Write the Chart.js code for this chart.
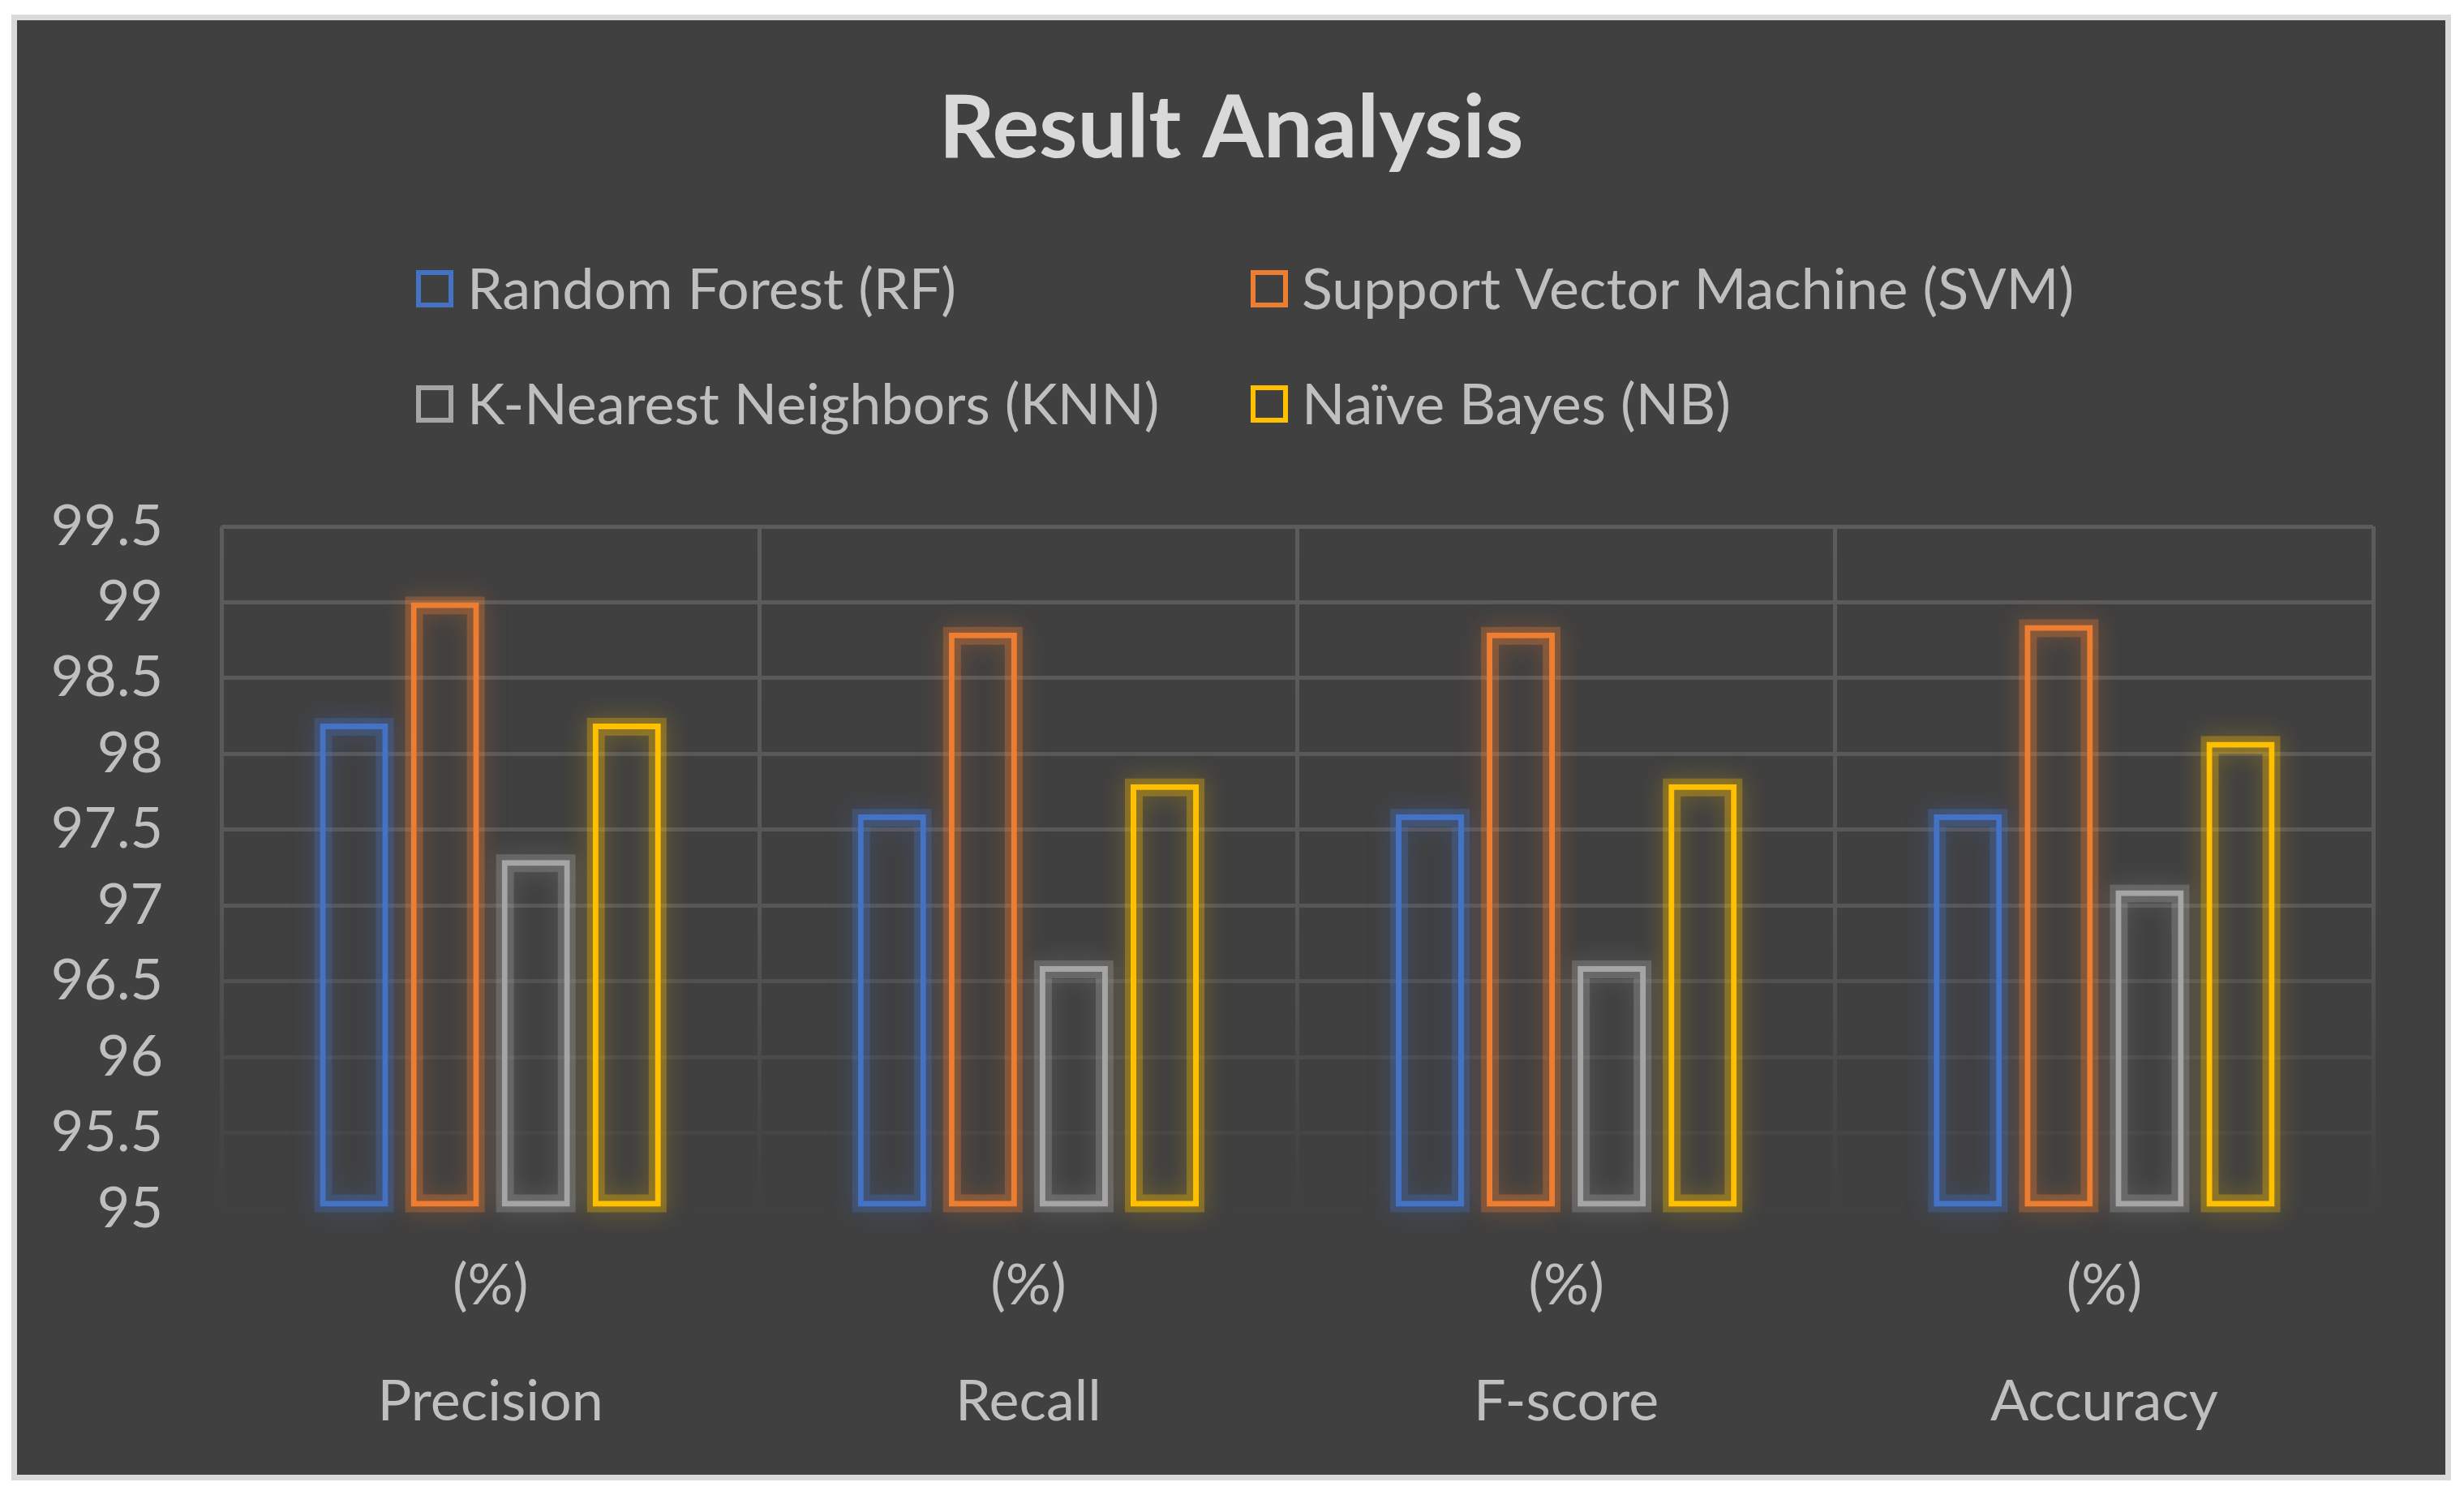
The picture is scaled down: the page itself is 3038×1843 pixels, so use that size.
<!DOCTYPE html>
<html>
<head>
<meta charset="utf-8">
<script src="https://cdn.jsdelivr.net/npm/chart.js@4"></script>
<style>
  html, body { margin: 0; padding: 0; background: #ffffff; }
  #frame {
    position: absolute; left: 14px; top: 18px;
    width: 3008px; height: 1807px; box-sizing: border-box;
    border: 7px solid #d9d9d9; background: #404040;
  }
  canvas { display: block; }
</style>
</head>
<body>
<div id="frame"><canvas id="myChart" width="2994" height="1793"></canvas></div>
<script>
const titleText = 'Result Analysis';

const categories = [
  ['(%)', 'Precision'],
  ['(%)', 'Recall'],
  ['(%)', 'F-score'],
  ['(%)', 'Accuracy'],
];

const seriesNames = [
  'Random Forest (RF)',
  'Support Vector Machine (SVM)',
  'K-Nearest Neighbors (KNN)',
  'Naïve Bayes (NB)',
];

const rfValues  = [98.2, 97.6, 97.6, 97.6];
const svmValues = [99.0, 98.8, 98.8, 98.85];
const knnValues = [97.3, 96.6, 96.6, 97.1];
const nbValues  = [98.2, 97.8, 97.8, 98.08];

const yTicks = ['95', '95.5', '96', '96.5', '97', '97.5', '98', '98.5', '99', '99.5'];
const yMin = 95;
const yMax = 99.5;

const colors = ['#4472c4', '#ed7d31', '#a5a5a5', '#ffc000'];

function rgba(hex, a) {
  const n = parseInt(hex.slice(1), 16);
  return 'rgba(' + (n >> 16) + ',' + ((n >> 8) & 255) + ',' + (n & 255) + ',' + a + ')';
}

// grid fades out towards the bottom, like the original
function gridColor(context) {
  const chart = context.chart;
  const area = chart.chartArea;
  if (!area) return '#595959';
  const g = chart.ctx.createLinearGradient(0, area.top, 0, area.bottom);
  g.addColorStop(0, '#5c5c5c');
  g.addColorStop(0.55, '#575757');
  g.addColorStop(0.85, '#474747');
  g.addColorStop(1, '#404040');
  return g;
}

// soft coloured glow round each bar outline
const barGlow = {
  id: 'barGlow',
  beforeDatasetsDraw(chart) {
    const ctx = chart.ctx;
    chart.data.datasets.forEach((d, i) => {
      const meta = chart.getDatasetMeta(i);
      ctx.save();
      ctx.shadowColor = rgba(d.borderColor, 0.8);
      ctx.shadowBlur = 30;
      ctx.strokeStyle = rgba(d.borderColor, 0.3);
      ctx.lineWidth = 22;
      meta.data.forEach(bar => {
        const p = bar.getProps(['x', 'y', 'base', 'width'], true);
        ctx.strokeRect(p.x - p.width / 2 + 4, p.y + 4, p.width - 8, p.base - p.y - 8);
      });
      ctx.restore();
    });
  }
};

// title plus two-column legend above the plot
const header = {
  id: 'header',
  afterDraw(chart) {
    const ctx = chart.ctx;
    const sets = chart.data.datasets;
    const top = chart.chartArea.top;
    const mid = chart.width / 2;
    ctx.save();

    ctx.font = 'bold 108px Lato';
    ctx.fillStyle = '#d9d9d9';
    ctx.textAlign = 'center';
    ctx.textBaseline = 'middle';
    ctx.fillText(titleText, mid, top - 490);

    ctx.font = '70px Lato';
    ctx.textAlign = 'left';
    const box = 46, gap = 17;
    const colX = [mid - 1005, mid + 24];
    const rowY = [top - 293, top - 151];
    sets.forEach((d, i) => {
      const x = colX[i % 2];
      const y = rowY[Math.floor(i / 2)];
      ctx.lineWidth = 6;
      ctx.strokeStyle = d.borderColor;
      ctx.strokeRect(x + 3, y - box / 2 + 3, box - 6, box - 6);
      ctx.fillStyle = '#bfbfbf';
      ctx.fillText(d.label, x + box + gap, y + 2);
    });
    ctx.restore();
  }
};

Chart.defaults.font.family = 'Lato';

const seriesValues = [rfValues, svmValues, knnValues, nbValues];

const data = {
  labels: categories,
  datasets: seriesNames.map((name, i) => ({
    label: name,
    data: seriesValues[i],
    base: yMin,
    backgroundColor: 'rgba(0,0,0,0)',
    borderColor: colors[i],
    borderWidth: 7,
    borderSkipped: false,
    categoryPercentage: 0.676,
    barPercentage: 0.75,
  })),
};

const config = {
  type: 'bar',
  data: data,
  options: {
    responsive: false,
    devicePixelRatio: 1,
    animation: false,
    layout: { padding: { left: 0, right: 89, top: 624, bottom: 18 } },
    plugins: {
      legend: { display: false },
      tooltip: { enabled: false },
      title: { display: false },
    },
    scales: {
      x: {
        grid: { color: gridColor, lineWidth: 5, drawTicks: false },
        border: { display: false },
        ticks: {
          color: '#bfbfbf',
          font: { size: 70, lineHeight: 143 / 70 },
          padding: 24,
          maxRotation: 0,
          autoSkip: false,
        },
        afterFit(scale) { scale.height = 310; },
      },
      y: {
        min: yMin,
        max: yMax,
        grid: { color: gridColor, lineWidth: 5, drawTicks: false },
        border: { display: false },
        ticks: {
          stepSize: 0.5,
          color: '#bfbfbf',
          font: { size: 70 },
          padding: 72,
          callback: (v, i) => yTicks[i],
        },
        afterFit(scale) { scale.width = 252; },
      },
    },
  },
  plugins: [barGlow, header],
};

const myChart = new Chart(document.getElementById('myChart'), config);
</script>
</body>
</html>
